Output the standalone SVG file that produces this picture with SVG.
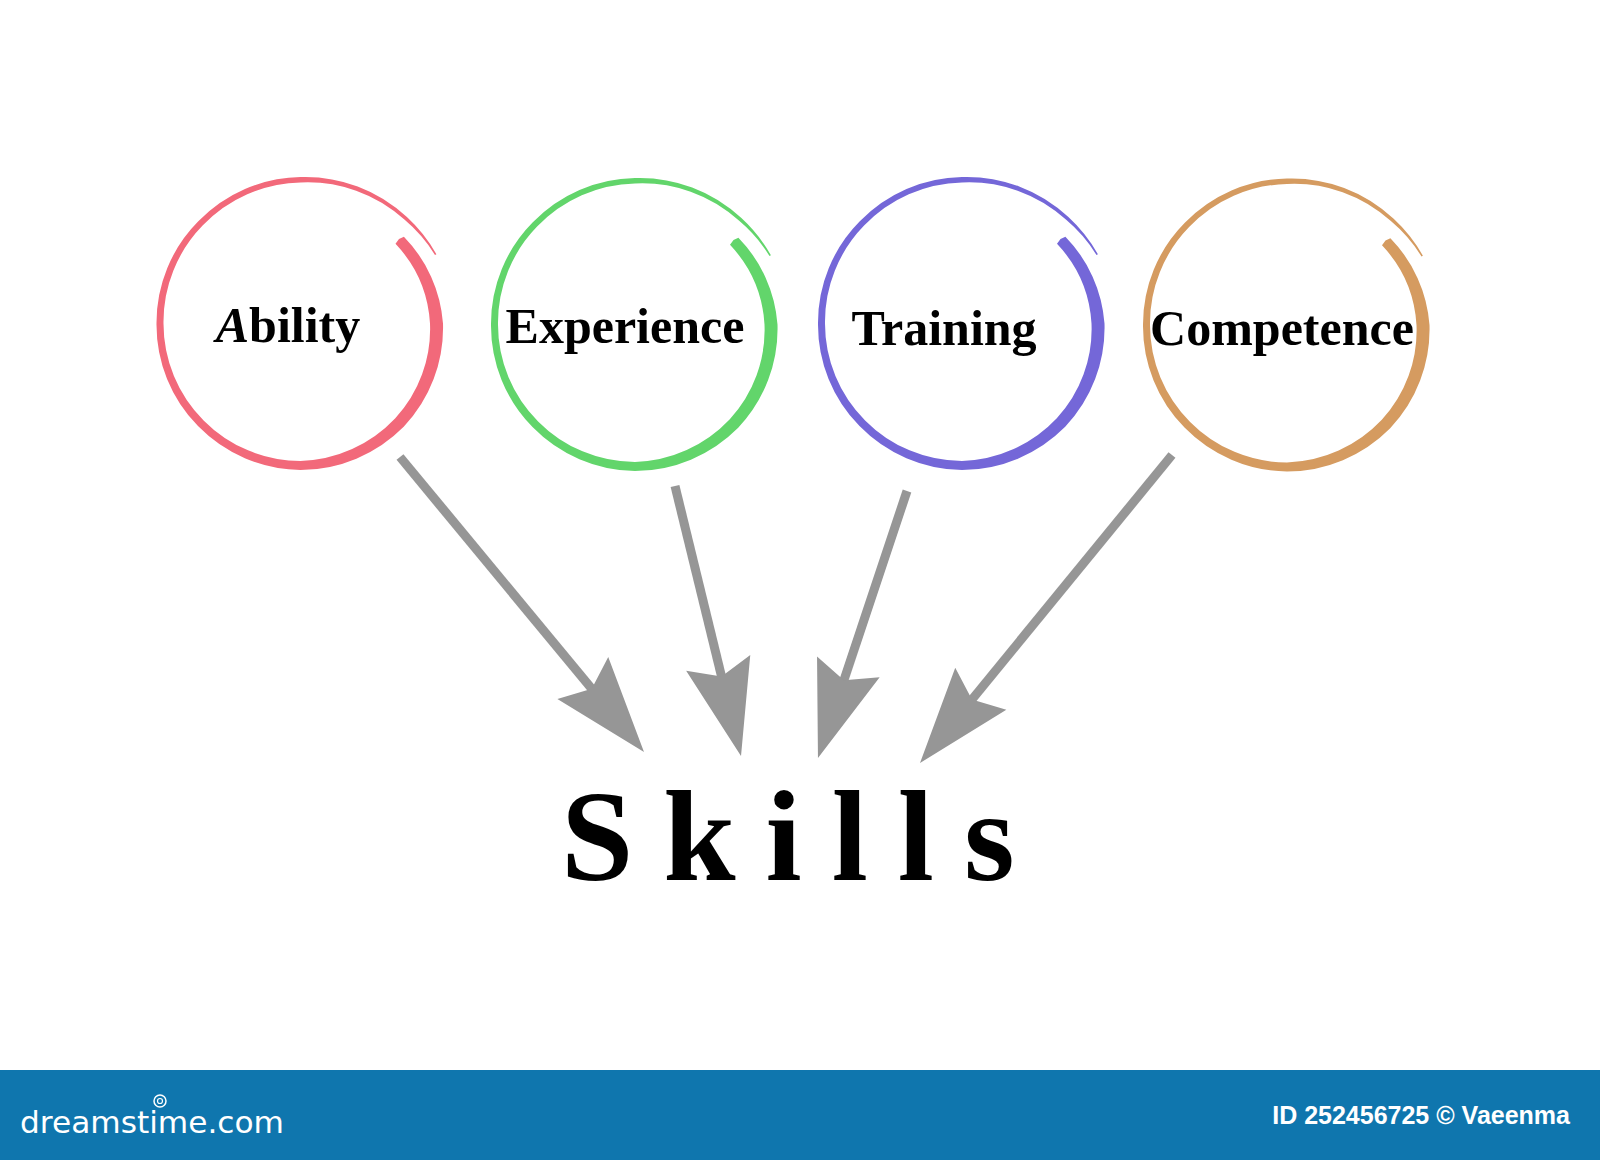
<svg xmlns="http://www.w3.org/2000/svg" xmlns:xlink="http://www.w3.org/1999/xlink" width="1600" height="1160" viewBox="0 0 1600 1160">
  <style>
    .label { font-family: "Liberation Serif", "Times New Roman", serif; font-weight: bold; font-size: 50px; fill: #000; text-anchor: middle; }
    .title { font-family: "Liberation Serif", "Times New Roman", serif; font-weight: bold; font-size: 130px; fill: #000; letter-spacing: 30px; }
    .shaft { stroke: #969696; stroke-width: 9; fill: none; marker-end: url(#ah); }
    .foot { font-family: "DejaVu Sans", "Liberation Sans", sans-serif; fill: #fff; }
  </style>
  <defs>
    <path id="ring" d="M103.4,-86.8 A139,139 0 0 1 142.5,0 A144,144 0 0 1 103.2,103.2 A146,146 0 0 1 0,146.5 A146,146 0 0 1 -102.5,102.5 A144.5,144.5 0 0 1 -144,0 A144,144 0 0 1 -102.2,-102.2 A145.5,145.5 0 0 1 0,-146.5 A148.5,148.5 0 0 1 106.4,-106.4 A151.5,151.5 0 0 1 135.9,-69.2 L134.5,-68.6 A149,149 0 0 0 103.9,-103.9 A144,144 0 0 0 0,-141 A139.75,139.75 0 0 0 -97.9,-97.9 A137.75,137.75 0 0 0 -137,0 A137,137 0 0 0 -96.9,96.9 A137.25,137.25 0 0 0 0,137.5 A135.75,135.75 0 0 0 94.8,94.8 A131.75,131.75 0 0 0 129.5,0 A127,127 0 0 0 95,-79.7 L98.5,-84.5 Z"/>
    <marker id="ah" markerUnits="userSpaceOnUse" viewBox="-98 -35 102 70" markerWidth="102" markerHeight="70" refX="-75" refY="0" orient="auto">
      <path d="M0,0 L-96,-33 L-82,0 L-96,33 Z" fill="#969696"/>
    </marker>
  </defs>
  <rect width="1600" height="1160" fill="#ffffff"/>

  <g id="node-ability">
    <use xlink:href="#ring" href="#ring" transform="translate(300.5,323.5)" fill="#f2697a"/>
    <text class="label" x="288" y="342"><tspan font-style="italic">A</tspan>bility</text>
  </g>
  <g id="node-experience">
    <use xlink:href="#ring" href="#ring" transform="translate(635,324.5)" fill="#62d56b"/>
    <text class="label" x="625" y="343" font-size="51">Experience</text>
  </g>
  <g id="node-training">
    <use xlink:href="#ring" href="#ring" transform="translate(962,323.5)" fill="#7467d8"/>
    <text class="label" x="944" y="345" font-size="51">Training</text>
  </g>
  <g id="node-competence">
    <use xlink:href="#ring" href="#ring" transform="translate(1287,325)" fill="#d59b60"/>
    <text class="label" x="1282" y="345">Competence</text>
  </g>

  <g id="connectors">
    <line class="shaft" x1="400" y1="457" x2="596.2" y2="694.2"/>
    <line class="shaft" x1="675" y1="486" x2="723.2" y2="683.2"/>
    <line class="shaft" x1="907" y1="491" x2="841.7" y2="686.8"/>
    <line class="shaft" x1="1172" y1="455" x2="967.5" y2="705"/>
  </g>

  <g id="node-skills">
    <text class="title" x="561" y="880">Skills</text>
  </g>

  <g id="footer">
    <rect x="0" y="1070" width="1600" height="90" fill="#0f76ae"/>
    <circle cx="160" cy="1101" r="6" fill="none" stroke="#fff" stroke-width="1.5"/>
    <circle cx="160" cy="1101" r="2.5" fill="none" stroke="#fff" stroke-width="1.2"/>
    <text class="foot" x="20" y="1133" font-size="30" textLength="264" lengthAdjust="spacingAndGlyphs">dreamstime.com</text>
    <text x="1570" y="1124" font-family="Liberation Sans, Arial, sans-serif" font-size="25" font-weight="bold" fill="#fff" text-anchor="end">ID 252456725 © Vaeenma</text>
  </g>
</svg>
